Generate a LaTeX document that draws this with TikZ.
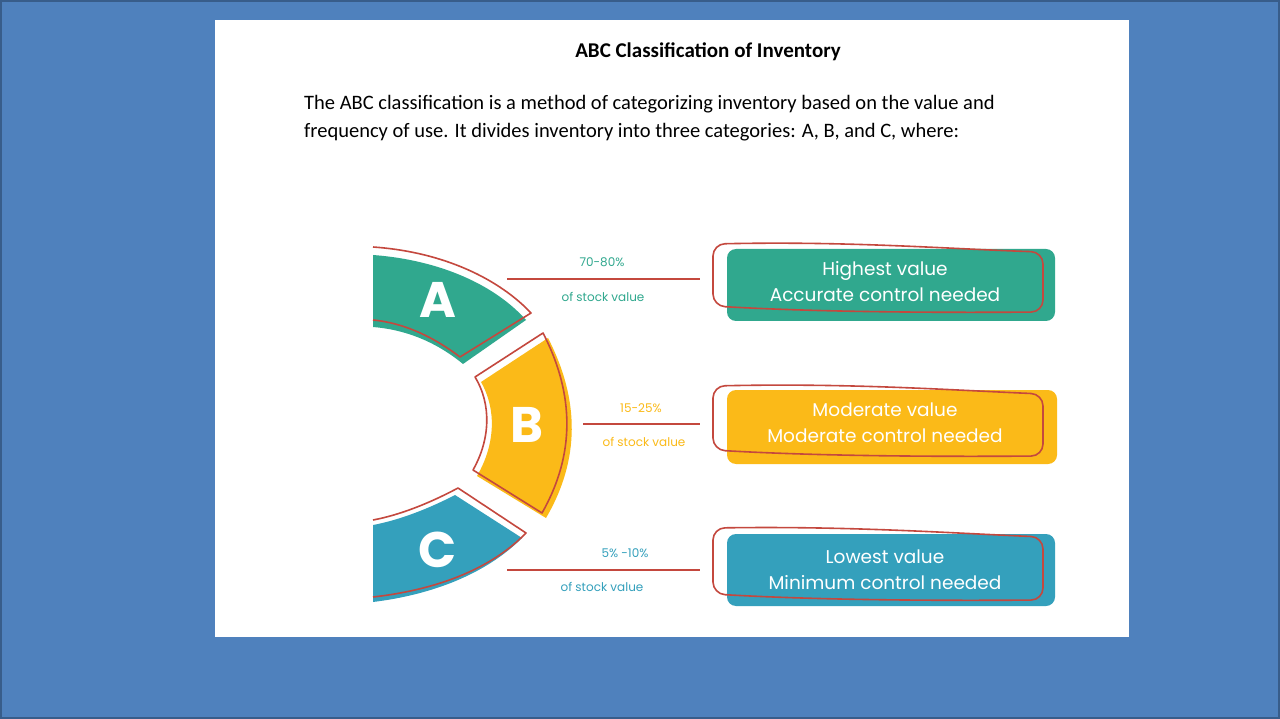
\documentclass[tikz,border=0pt]{standalone}
\usepackage{fontspec}
\setmainfont{Carlito}
\newfontfamily\popfont{Poppins}
\usetikzlibrary{positioning}
\definecolor{bgblue}{RGB}{79,129,189}
\definecolor{frameblue}{RGB}{56,93,138}
\definecolor{tealA}{RGB}{48,168,142}
\definecolor{yellowB}{RGB}{251,186,24}
\definecolor{blueC}{RGB}{52,160,188}
\definecolor{redline}{RGB}{196,72,62}
\tikzset{
  sketch/.style={draw=redline, line width=1.6pt, line join=round},
  leader/.style={draw=redline, line width=2.4pt},
  pct/.style={inner sep=0pt, font=\popfont\fontsize{12}{14}\selectfont},
  letter/.style={inner sep=0pt, text=white, font=\popfont\bfseries\fontsize{50}{56}\selectfont},
  boxtext/.style={inner sep=0pt, text=white, align=center, font=\popfont\fontsize{18.5}{26}\selectfont},
}
\begin{document}
\begin{tikzpicture}[x=1pt,y=-1pt]
\useasboundingbox (0,0) rectangle (1280,719);
% background and page
\fill[bgblue] (0,0) rectangle (1280,719);
\draw[frameblue, line width=2pt] (1,1) rectangle (1279,718);
\fill[white] (215,20) rectangle (1129,637);

% Title and text
\node[inner sep=0pt, font=\bfseries\fontsize{21}{24}\selectfont] (title) at (708,52) {ABC Classification of Inventory};
\node[inner sep=0pt, anchor=west, font=\fontsize{20.5}{24}\selectfont] (line1) at (304,104) {The ABC classification is a method of categorizing inventory based on the value and};
\node[inner sep=0pt, anchor=west, font=\fontsize{20.5}{24}\selectfont] (line2) at (304,132) {frequency of use. It divides inventory into three categories: A, B, and C, where:};

% Segment A
\fill[tealA] (373,255) .. controls (440,260) and (495,285) .. (526,320) -- (463,364) .. controls (440,345) and (410,330) .. (373,327) -- cycle;
\draw[sketch] (373,247) .. controls (445,252) and (500,280) .. (531,313) -- (460,357) .. controls (435,338) and (405,323) .. (373,320);
% Segment B
\fill[yellowB] (481,382) -- (548,338) .. controls (580,400) and (580,460) .. (546,518) -- (477,476) .. controls (495,445) and (497,410) .. cycle;
\draw[sketch] (475,377) -- (543,333) .. controls (575,395) and (575,455) .. (542,513) -- (473,470) .. controls (490,440) and (492,405) .. cycle;
% Segment C
\fill[blueC] (373,525) .. controls (400,520) and (430,508) .. (455,495) -- (522,538) .. controls (485,575) and (430,595) .. (373,602) -- cycle;
\draw[sketch] (373,520) .. controls (400,515) and (430,503) .. (458,488) -- (526,533) .. controls (490,570) and (435,590) .. (373,597);

% Letters
\node[letter] (la) at (438,300) {A};
\node[letter] (lb) at (527,425) {B};
\node[letter] (lc) at (438,550) {C};

% Boxes
\fill[tealA, rounded corners=9pt] (727,249) rectangle (1055,321);
\draw[sketch, rounded corners=12pt] (713,244) .. controls (850,241) and (950,249) .. (1043,252) -- (1043,312) .. controls (900,313) and (800,311) .. (713,306) -- cycle;
\node[boxtext] (boxa) at (885,282) {Highest value\\Accurate control needed};

\fill[yellowB, rounded corners=9pt] (727,390) rectangle (1057,464);
\draw[sketch, rounded corners=12pt] (713,386) .. controls (850,383) and (950,390) .. (1043,394) -- (1043,456) .. controls (900,457) and (800,455) .. (713,450) -- cycle;
\node[boxtext] (boxb) at (885,423) {Moderate value\\Moderate control needed};

\fill[blueC, rounded corners=9pt] (727,534) rectangle (1055,606);
\draw[sketch, rounded corners=12pt] (713,528) .. controls (850,526) and (950,533) .. (1043,537) -- (1043,600) .. controls (900,601) and (800,599) .. (713,594) -- cycle;
\node[boxtext] (boxc) at (885,570) {Lowest value\\Minimum control needed};

% Leaders
\coordinate (sa) at (507,279); \coordinate (ea) at (700,279);
\coordinate (sb) at (583,424); \coordinate (eb) at (700,424);
\coordinate (sc) at (507,570); \coordinate (ec) at (700,570);
\draw[leader] (sa) -- (ea);
\draw[leader] (sb) -- (eb);
\draw[leader] (sc) -- (ec);

% Percent labels
\node[pct, text=tealA] (pa) at (602,262) {70-80\%};
\node[pct, text=tealA] (va) at (603,297) {of stock value};
\node[pct, text=yellowB] (pb) at (641,408) {15-25\%};
\node[pct, text=yellowB] (vb) at (644,442) {of stock value};
\node[pct, text=blueC] (pc) at (625,553) {5\% -10\%};
\node[pct, text=blueC] (vc) at (602,587) {of stock value};
\end{tikzpicture}
\end{document}
